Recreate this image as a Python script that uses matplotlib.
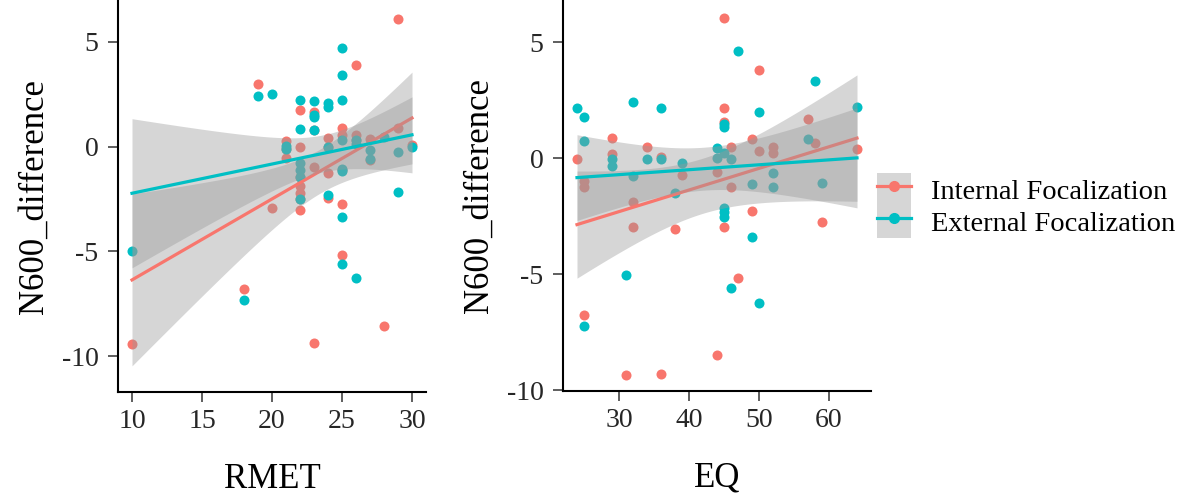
import numpy as np
import matplotlib
matplotlib.use("Agg")
import matplotlib.pyplot as plt
from matplotlib.patches import Patch
from matplotlib.lines import Line2D

plt.rcParams['font.family'] = ['Liberation Serif', 'DejaVu Serif']
plt.rcParams['axes.unicode_minus'] = False

# %% data
# left panel: RMET vs N600_difference
rmet_int_x = [10, 18, 19, 20, 21, 21, 21, 22, 22, 22, 22, 22, 22, 22, 23, 23, 23, 23, 24, 24, 24, 24,
              25, 25, 25, 25, 25, 26, 26, 26, 27, 27, 28, 29, 29, 30]
rmet_int_y = [-9.4, -6.8, 3.0, -2.95, 0.25, -0.1, -0.55, 1.75, 0.0, -1.45, -1.9, -2.2, -2.5, -3.0,
              1.65, 0.8, -0.95, -9.35, 0.4, 0.0, -1.25, -2.45, 0.9, 0.55, -1.1, -2.75, -5.15,
              3.9, 0.55, 0.3, 0.35, -0.65, -8.55, 6.1, 0.9, 0.1]
rmet_ext_x = [10, 18, 19, 20, 21, 21, 22, 22, 22, 22, 22, 22, 23, 23, 23, 23, 24, 24, 24, 24,
              25, 25, 25, 25, 25, 25, 25, 25, 26, 26, 26, 27, 27, 28, 29, 29, 30]
rmet_ext_y = [-5.0, -7.3, 2.4, 2.5, 0.05, -0.1, 2.25, 0.85, -0.8, -1.1, -1.45, -2.5, 2.2, 1.5, 1.4, 0.8,
              2.1, 1.9, 0.0, -2.3, 4.7, 3.4, 2.25, 0.3, -1.05, -1.15, -3.35, -5.6, 0.3, 0.15, -6.25,
              -0.15, -0.6, 0.45, -0.25, -2.15, 0.0]

# right panel: EQ vs N600_difference
eq_int_x = [24, 25, 25, 25, 29, 29, 31, 32, 32, 34, 36, 36, 38, 39, 44, 44, 45, 45, 45, 45,
            46, 46, 47, 49, 49, 50, 50, 52, 52, 57, 58, 59, 64]
eq_int_y = [-0.03, -0.98, -1.26, -6.77, 0.85, 0.17, -9.35, -1.9, -2.96, 0.49, 0.05, -9.31, -3.07,
            -0.73, -0.59, -8.49, 6.05, 2.17, 1.57, -2.96, 0.49, -1.26, -5.16, 0.8, -2.27, 3.79, 0.31,
            0.49, 0.2, 1.67, 0.66, -2.76, 0.39]
eq_ext_x = [24, 25, 25, 25, 29, 29, 31, 32, 32, 34, 36, 36, 38, 39, 44, 44, 45, 45, 45, 45, 45, 45,
            46, 46, 47, 49, 49, 50, 50, 52, 52, 57, 58, 59, 64]
eq_ext_y = [2.17, 1.78, 0.72, -7.24, -0.06, -0.33, -5.03, 2.43, -0.78, -0.06, 2.17, -0.06, -1.52,
            -0.23, 0.44, -0.02, 1.47, 1.32, 0.2, -2.17, -2.34, -2.53, -0.05, -5.62, 4.63, -1.12, -3.39,
            2.0, -6.24, -0.63, -1.26, 0.8, 3.33, -1.06, 2.18]

group_labels = ['Internal Focalization', 'External Focalization']
col_int = '#F8766D'
col_ext = '#00BFC4'
ribbon_col = '#999999'
T_CRIT = 2.03  # t(0.975) for df ~ 30-35


def lm_band(x, y, n_grid=80):
    x = np.asarray(x, float)
    y = np.asarray(y, float)
    b1, b0 = np.polyfit(x, y, 1)
    resid = y - (b0 + b1 * x)
    s = np.sqrt(np.sum(resid ** 2) / (len(x) - 2))
    xg = np.linspace(x.min(), x.max(), n_grid)
    se = s * np.sqrt(1 / len(x) + (xg - x.mean()) ** 2 / np.sum((x - x.mean()) ** 2))
    yg = b0 + b1 * xg
    return xg, yg, yg - T_CRIT * se, yg + T_CRIT * se


def panel(ax, xi, yi, xe, ye, xlabel, xlim, ylim, xticks):
    ax.scatter(xi, yi, s=52, color=col_int, linewidths=0, zorder=2)
    ax.scatter(xe, ye, s=52, color=col_ext, linewidths=0, zorder=2)
    z = 3
    for x, y, c in [(xi, yi, col_int), (xe, ye, col_ext)]:
        xg, yg, lo, hi = lm_band(x, y)
        ax.fill_between(xg, lo, hi, color=ribbon_col, alpha=0.4, linewidth=0, zorder=z)
        ax.plot(xg, yg, color=c, lw=2.3, zorder=z + 1)
        z += 2
    ax.set_xlim(*xlim)
    ax.set_ylim(*ylim)
    ax.set_xticks(xticks)
    ax.set_yticks([5, 0, -5, -10])
    ax.spines['top'].set_visible(False)
    ax.spines['right'].set_visible(False)
    for sp in ['left', 'bottom']:
        ax.spines[sp].set_linewidth(1.5)
    ax.tick_params(length=7, width=1.1, labelsize=20, labelcolor='#262626', color='#333333')
    ax.tick_params(axis='x', pad=5)
    ax.tick_params(axis='y', pad=7)
    ax.set_xlabel(xlabel, fontsize=25, labelpad=21)
    ax.set_ylabel('N600_difference', fontsize=25, labelpad=8)


# %% plotting
fig = plt.figure(figsize=(11.81, 4.95), dpi=100)
ax1 = fig.add_axes([118 / 1181, 103 / 495, 308 / 1181, 392 / 495])
ax2 = fig.add_axes([563 / 1181, 104 / 495, 308 / 1181, 391 / 495])

panel(ax1, rmet_int_x, rmet_int_y, rmet_ext_x, rmet_ext_y, 'RMET',
      (9, 31), (-11.71, 7.0), [10, 15, 20, 25, 30])
panel(ax2, eq_int_x, eq_int_y, eq_ext_x, eq_ext_y, 'EQ',
      (22, 66), (-10.04, 6.81), [30, 40, 50, 60])

handles = []
for c in [col_int, col_ext]:
    handles.append((Patch(facecolor='#D6D6D6', edgecolor='none'),
                    Line2D([], [], color=c, lw=2.3, marker='o', markersize=7)))
fig.legend(handles, group_labels, loc='upper left', bbox_to_anchor=(877 / 1181, 1 - 173 / 495),
           frameon=False, fontsize=20.5, handlelength=1.2, handleheight=1.38,
           labelspacing=0, handletextpad=0.68, borderpad=0, borderaxespad=0)

fig.savefig('out.png', dpi=100)
